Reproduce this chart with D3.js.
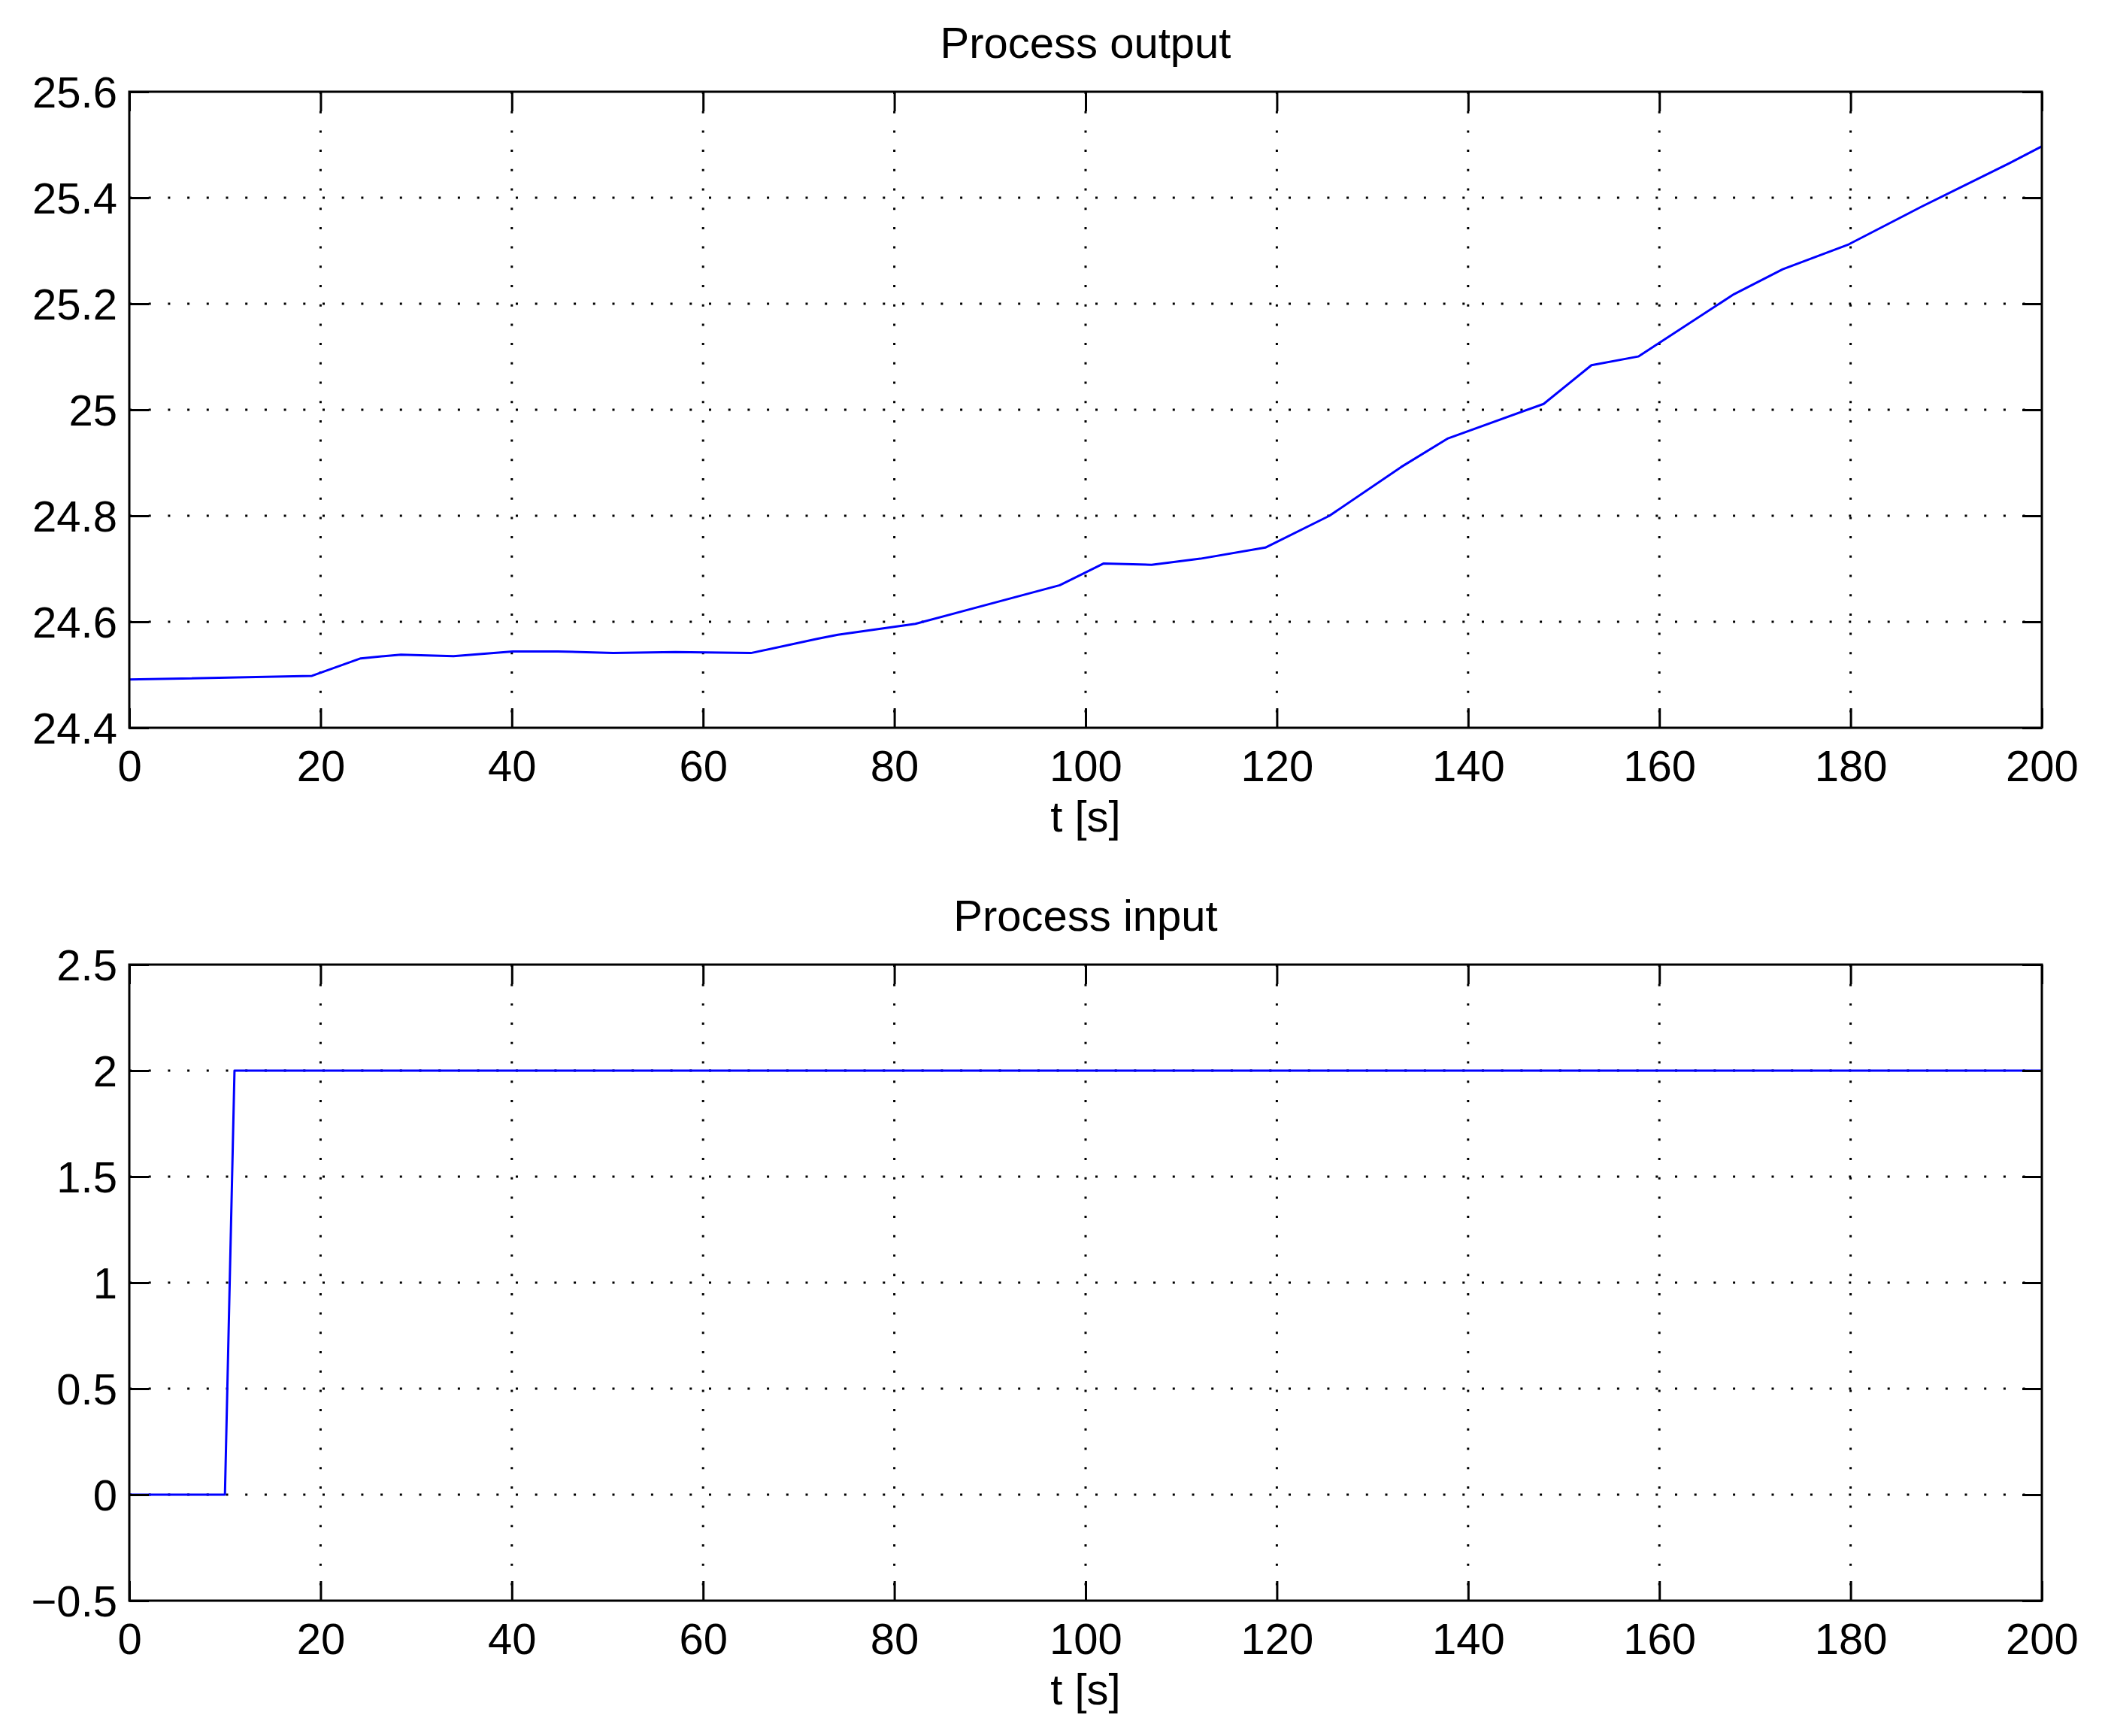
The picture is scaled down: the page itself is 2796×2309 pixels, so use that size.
<!DOCTYPE html>
<html>
<head>
<meta charset="utf-8">
<script src="https://cdn.jsdelivr.net/npm/d3@7.9.0/dist/d3.min.js"></script>
<style>
  html, body { margin: 0; padding: 0; background: #fff; }
  svg { display: block; }
  text { font-family: "Liberation Sans", Arial, Helvetica, sans-serif; fill: #000; }
</style>
</head>
<body>
<svg id="chart" width="2796" height="2309"></svg>
<script>
// Process output
const outputTime = [0, 19.1, 24.2, 28.4, 33.9, 40.1, 44.8, 50.6, 57.1, 65.0, 72.0, 74.1, 82.2, 97.3,
  101.9, 106.9, 112.0, 118.8, 125.5, 133.0, 137.9, 147.9, 152.9, 157.8, 167.8, 172.9, 179.8, 187.4, 196.6, 200];
const outputValue = [24.491, 24.498, 24.531, 24.538, 24.535, 24.544, 24.544, 24.541, 24.543, 24.541, 24.568, 24.5755, 24.596, 24.669,
  24.710, 24.7075, 24.719, 24.740, 24.80, 24.892, 24.946, 25.011, 25.084, 25.1005, 25.218, 25.265, 25.312, 25.383, 25.465, 25.497];

// Process input (step)
const inputTime = [0, 10, 11, 200];
const inputValue = [0, 0, 2, 2];

const xTicks = [0, 20, 40, 60, 80, 100, 120, 140, 160, 180, 200];
const outputTicks = [24.4, 24.6, 24.8, 25, 25.2, 25.4, 25.6];
const inputTicks = [-0.5, 0, 0.5, 1, 1.5, 2, 2.5];

const svg = d3.select('#chart');
svg.append('rect').attr('width', 2796).attr('height', 2309).attr('fill', '#fff');

const left = 172, right = 2716;
const fontSize = 58;
const tickLen = 26;

function fmt(v) {
  return v < 0 ? '\u2212' + Math.abs(v) : String(v);
}

function drawPanel(top, bottom, title, times, values, yDomain, yTicks) {
  const x = d3.scaleLinear().domain([0, 200]).range([left, right]);
  const y = d3.scaleLinear().domain(yDomain).range([bottom, top]);
  const g = svg.append('g');

  // dotted grid
  const grid = g.append('g')
    .attr('stroke', '#000')
    .attr('stroke-width', 3)
    .attr('stroke-dasharray', '3 22.7');
  grid.selectAll('.vg').data(xTicks.slice(1, -1)).join('line')
    .attr('x1', d => x(d)).attr('x2', d => x(d))
    .attr('y1', top).attr('y2', bottom);
  grid.selectAll('.hg').data(yTicks.slice(1, -1)).join('line')
    .attr('x1', left).attr('x2', right)
    .attr('y1', d => y(d)).attr('y2', d => y(d));

  // data
  const line = d3.line().x((d, i) => x(times[i])).y(d => y(d));
  g.append('path')
    .attr('d', line(values))
    .attr('fill', 'none')
    .attr('stroke', '#0000ff')
    .attr('stroke-width', 3)
    .attr('stroke-linejoin', 'round');

  // axes with inward ticks on all four sides
  const axes = [
    d3.axisBottom(x).tickValues(xTicks).tickSizeInner(-tickLen).tickSizeOuter(0).tickPadding(30).tickFormat(fmt),
    d3.axisTop(x).tickValues(xTicks).tickSizeInner(-tickLen).tickSizeOuter(0).tickFormat(''),
    d3.axisLeft(y).tickValues(yTicks).tickSizeInner(-tickLen).tickSizeOuter(0).tickPadding(16).tickFormat(fmt),
    d3.axisRight(y).tickValues(yTicks).tickSizeInner(-tickLen).tickSizeOuter(0).tickFormat('')
  ];
  const pos = [`translate(0,${bottom})`, `translate(0,${top})`, `translate(${left},0)`, `translate(${right},0)`];
  axes.forEach((a, i) => {
    const ag = g.append('g').attr('transform', pos[i]).call(a);
    ag.select('.domain').remove();
    ag.selectAll('line').attr('stroke', '#000').attr('stroke-width', 3);
    ag.selectAll('text')
      .attr('font-size', fontSize)
      .attr('font-family', '"Liberation Sans", Arial, Helvetica, sans-serif')
      .attr('fill', '#000');
    if (i === 2) ag.selectAll('text').attr('dy', '0.36em');
  });

  // box
  g.append('rect')
    .attr('x', left).attr('y', top)
    .attr('width', right - left).attr('height', bottom - top)
    .attr('fill', 'none').attr('stroke', '#000').attr('stroke-width', 3);

  g.append('text')
    .attr('x', (left + right) / 2).attr('y', top - 45)
    .attr('text-anchor', 'middle').attr('font-size', fontSize)
    .text(title);

  g.append('text')
    .attr('x', (left + right) / 2).attr('y', bottom + 138)
    .attr('text-anchor', 'middle').attr('font-size', fontSize)
    .text('t [s]');
}

drawPanel(122, 968, 'Process output', outputTime, outputValue, [24.4, 25.6], outputTicks);
drawPanel(1283, 2129, 'Process input', inputTime, inputValue, [-0.5, 2.5], inputTicks);
</script>
</body>
</html>
